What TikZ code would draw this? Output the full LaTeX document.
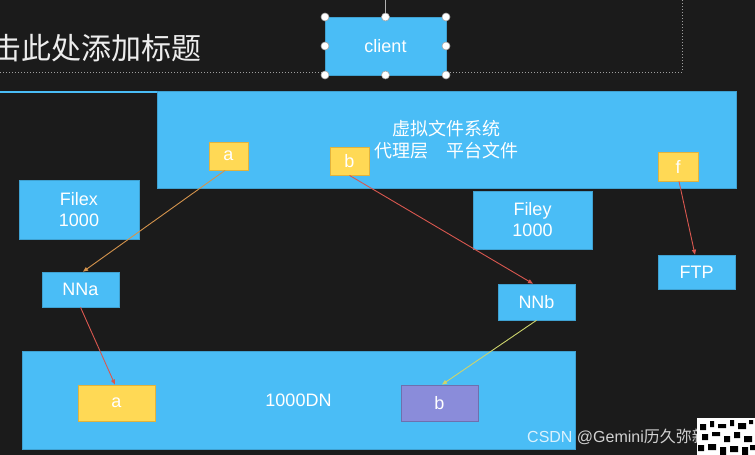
\documentclass[tikz,border=0pt]{standalone}
\usepackage{fontspec}
\setmainfont{Liberation Sans}
\newfontfamily\cjk{Noto Sans CJK SC}
\usetikzlibrary{arrows.meta}
\definecolor{bg}{HTML}{1B1B1B}
\definecolor{boxblue}{HTML}{4ABDF6}
\definecolor{ylw}{HTML}{FFD955}
\definecolor{ylwd}{HTML}{E2B33C}
\definecolor{purp}{HTML}{8A8CDA}
\definecolor{tanarrow}{HTML}{D4934C}
\definecolor{redarrow}{HTML}{D9574F}
\definecolor{grnarrow}{HTML}{CDD46C}
\tikzset{
  bluebox/.style={fill=boxblue, draw=boxblue!85!black, line width=0.6pt, text=white, inner sep=0pt, align=center, font=\fontsize{18}{21}\selectfont},
  ybox/.style={fill=ylw, draw=ylwd, line width=0.8pt, text=white, inner sep=0pt, font=\fontsize{18}{21}\selectfont},
  pbox/.style={fill=purp, draw=purp!80!black, line width=0.8pt, text=white, inner sep=0pt, font=\fontsize{18}{21}\selectfont},
  conn/.style={-{Triangle[length=5pt,width=4pt]}, line width=0.9pt},
  handle/.style={circle, fill=white, draw=gray!70, line width=0.6pt, minimum size=8pt, inner sep=0pt}
}
\begin{document}
\begin{tikzpicture}[x=1pt,y=-1pt]
\useasboundingbox (0,0) rectangle (755,455);
\fill[bg] (0,0) rectangle (755,455);
% title and placeholder frame
\node[anchor=west, inner sep=0pt, text=white!93!black, font=\cjk\fontsize{30}{30}\selectfont] (title) at (-9,48) {击此处添加标题};
\draw[gray!75, dotted, line width=1pt] (0,72) -- (682,72) -- (682,0);
\draw[boxblue, line width=1.6pt] (0,92) -- (157,92);
% client with selection handles
\draw[gray!60, line width=0.8pt] (385.5,0) -- (385.5,17);
\node[bluebox, minimum width=121pt, minimum height=58pt] (client) at (385.5,46) {client};
\foreach \hx/\hy in {325/17,385.5/17,446/17,325/46,446/46,325/75,385.5/75,446/75}
  \node[handle] at (\hx,\hy) {};
% main boxes
\node[bluebox, minimum width=579pt, minimum height=97pt, font=\cjk\fontsize{18}{22}\selectfont] (vfs) at (446.5,139.5) {虚拟文件系统\\代理层\hspace{1em}平台文件};
\node[ybox, minimum width=39pt, minimum height=28pt] (a1) at (228.5,156) {a};
\node[ybox, minimum width=39pt, minimum height=28pt] (b1) at (349.5,161) {b};
\node[ybox, minimum width=40pt, minimum height=29pt] (f1) at (678,166.5) {f};
\node[bluebox, minimum width=120pt, minimum height=59pt] (filex) at (79,209.5) {Filex\\1000};
\node[bluebox, minimum width=119pt, minimum height=58pt] (filey) at (532.5,220) {Filey\\1000};
\node[bluebox, minimum width=77pt, minimum height=35pt] (NNa) at (80.5,289.5) {NNa};
\node[bluebox, minimum width=77pt, minimum height=36pt] (NNb) at (536.5,302) {NNb};
\node[bluebox, minimum width=77pt, minimum height=34pt] (ftp) at (696.5,272) {FTP};
\node[bluebox, minimum width=553pt, minimum height=98pt] (dn) at (298.5,400) {1000DN};
\node[ybox, minimum width=77pt, minimum height=36pt] (a2) at (116.5,403) {a};
\node[pbox, minimum width=77pt, minimum height=36pt] (b2) at (439.5,403) {b};
% connectors
\draw[conn, tanarrow] ([xshift=-3.5pt]a1.south) -- ([xshift=2.5pt]NNa.north);
\draw[conn, redarrow] (NNa.south) -- ([xshift=-1.5pt]a2.north);
\draw[conn, redarrow] (b1.south) -- ([xshift=-3.5pt]NNb.north);
\draw[conn, grnarrow] (NNb.south) -- ([xshift=2.5pt]b2.north);
\draw[conn, redarrow] ([xshift=1pt]f1.south) -- ([xshift=-1.5pt]ftp.north);
% watermark
\node[anchor=west, inner sep=0pt, text=white, opacity=0.8, font=\fontsize{16}{16}\selectfont] (wm) at (527,437) {CSDN @Gemini{\cjk 历久弥新}};
% QR fragment
\fill[white] (697,418) rectangle (755,455);
\fill[black] (700,424) rectangle (706,430) (710,421) rectangle (714,427) (718,424) rectangle (726,428)
  (730,420) rectangle (734,426) (738,423) rectangle (746,429) (749,420) rectangle (753,424)
  (702,434) rectangle (708,440) (712,432) rectangle (720,436) (724,436) rectangle (730,442)
  (734,432) rectangle (740,438) (744,436) rectangle (752,442) (698,445) rectangle (704,451)
  (708,444) rectangle (716,450) (720,447) rectangle (726,455) (730,446) rectangle (738,452)
  (742,447) rectangle (748,455) (750,445) rectangle (755,450);
\end{tikzpicture}
\end{document}
